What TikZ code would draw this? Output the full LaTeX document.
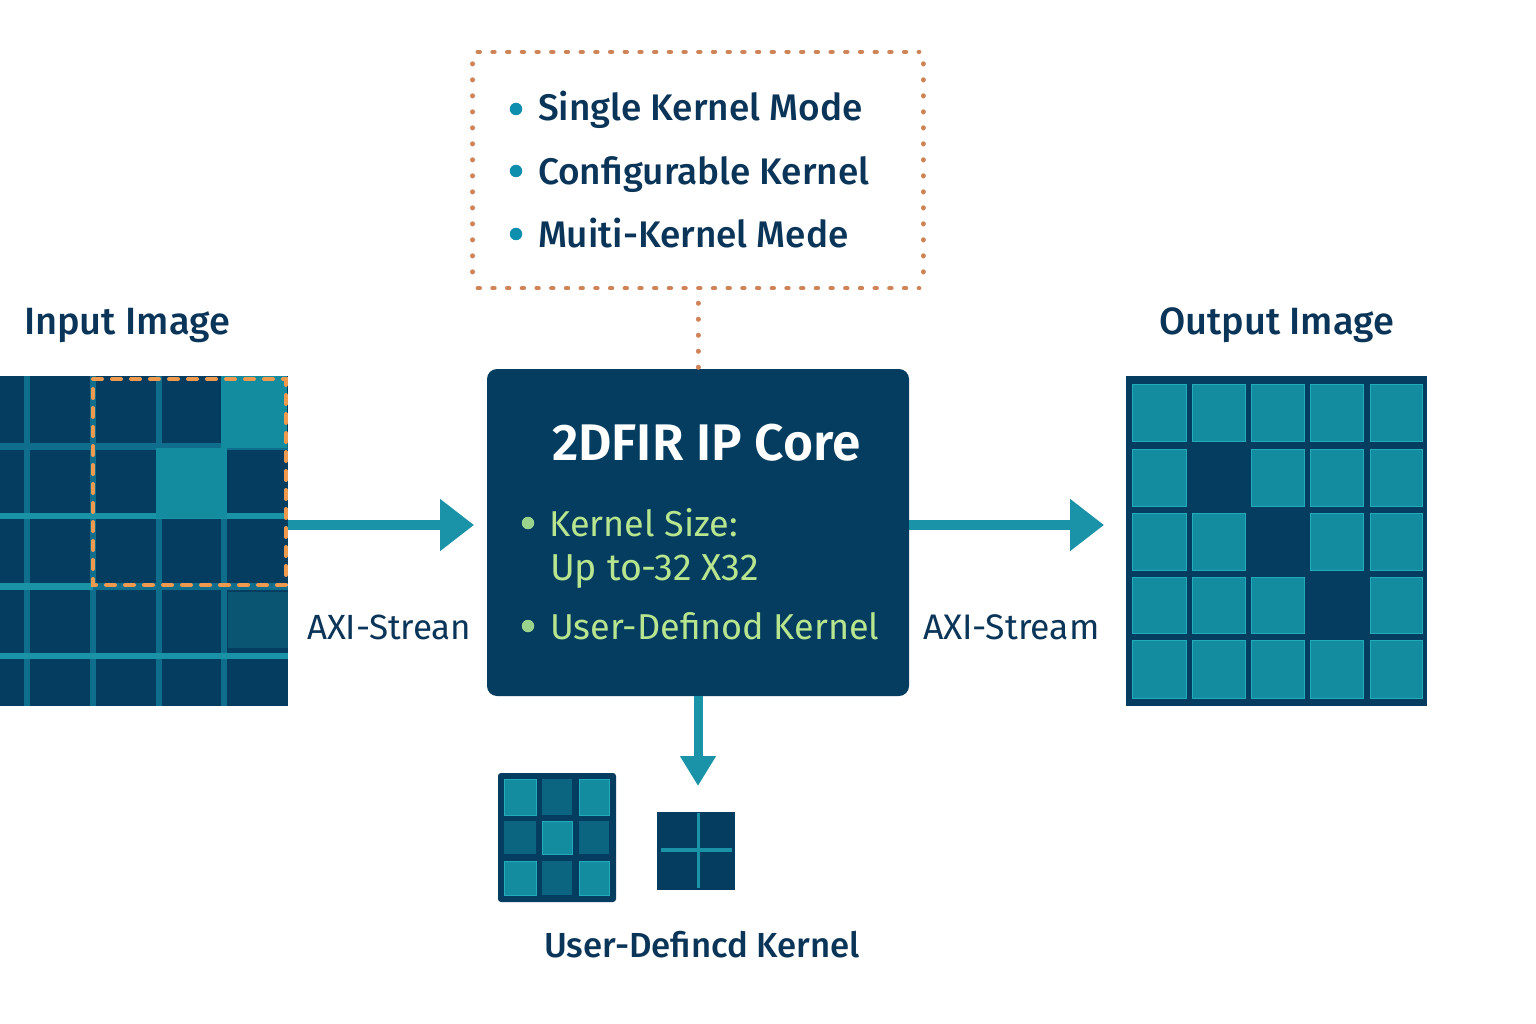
\documentclass[tikz,border=0pt]{standalone}
\usepackage{fontspec}
\usetikzlibrary{arrows.meta,calc}
\setmainfont{Liberation Sans}
\newfontfamily\medfont{Fira Sans Medium}
\newfontfamily\boldfont{Fira Sans SemiBold}
\newfontfamily\regfont{Fira Sans}
\definecolor{navy}{HTML}{043D60}
\definecolor{ink}{HTML}{0A3558}
\definecolor{teal}{HTML}{128C9E}
\definecolor{tealedge}{HTML}{22ABBB}
\definecolor{midteal}{HTML}{0B6480}
\definecolor{softcell}{HTML}{0A5672}
\definecolor{gridline}{HTML}{0F6E8C}
\definecolor{gridbright}{HTML}{1A93A6}
\definecolor{arrowteal}{HTML}{1A93A8}
\definecolor{orangedash}{HTML}{F09A50}
\definecolor{dotbrown}{HTML}{CF8458}
\definecolor{lime}{HTML}{B8E68F}
\definecolor{limedot}{HTML}{9AD48C}
\definecolor{bulletteal}{HTML}{0E8FAE}
\tikzset{
  panel/.style={fill=navy,draw=none,inner sep=0pt,outer sep=0pt},
  flow/.style={draw=arrowteal,line width=10pt,-{Triangle[length=34pt,width=50pt]}},
  flowdown/.style={draw=arrowteal,line width=9pt,-{Triangle[length=30pt,width=34pt]}},
  dotsh/.style={draw=dotbrown,line width=4.4pt,line cap=round,dash pattern=on 2pt off 12.7pt},
  dotsv/.style={draw=dotbrown,line width=5pt,line cap=round,dash pattern=on 0.1pt off 15.9pt},
  txt/.style={inner sep=0pt,outer sep=0pt,anchor=base west},
  heading/.style={txt,text=ink,font=\medfont\fontsize{38}{44}\selectfont},
  axis/.style={txt,text=ink,font=\regfont\fontsize{35}{40}\selectfont},
  listitem/.style={txt,text=ink,font=\medfont\fontsize{37}{44}\selectfont},
  coreitem/.style={txt,text=lime,font=\regfont\fontsize{36}{44}\selectfont},
  tile/.style={fill=teal,draw=tealedge,line width=1pt},
  dot/.style={circle,inner sep=0pt,minimum size=#1}
}
\begin{document}
\begin{tikzpicture}[x=1pt,y=-1pt]
\useasboundingbox[fill=white] (0,0) rectangle (1536,1024);

% ---------- input image
\node[panel,minimum width=288pt,minimum height=330pt] (input) at (144,541) {};
\foreach \x in {27,93,159,224}
  \fill[gridline] (\x-3.2,376) rectangle (\x+3.2,706);
\fill[gridline] (0,443) rectangle (288,449.5);
\fill[gridbright] (0,512.5) rectangle (288,519);
\fill[gridbright] (0,583) rectangle (93,589.5);
\fill[gridline] (93,583) rectangle (288,589.5);
\fill[gridbright] (0,653) rectangle (288,659);
\fill[teal] (221,376) rectangle (287,448);
\fill[teal] (156,448) rectangle (227,518);
\fill[navy] (228,450) rectangle (286,512);
\fill[softcell] (228,592) rectangle (288,648);
\draw[orangedash,line width=4pt,line cap=round,dash pattern=on 9pt off 10pt]
  (93,379) -- (286,379) -- (286,585) -- (93,585) -- cycle;

% ---------- output image
\node[panel,minimum width=301pt,minimum height=330pt] (output) at (1276.5,541) {};
\foreach \xa/\xb [count=\c] in {1132/1186,1192/1245,1251/1304,1310/1363,1370/1422} {
  \foreach \ya/\yb [count=\r] in {384/441,449/506,513/570,577/633,640/698} {
    \pgfmathtruncatemacro{\skipme}{(\c==\r && \c>1 && \c<5) ? 1 : 0}
    \ifnum\skipme=0
      \draw[tile] (\xa,\ya) rectangle (\xb,\yb);
    \fi
  }
}

% ---------- options box
\node[inner sep=0pt,minimum width=450pt,minimum height=236pt] (options) at (698,170) {};
\draw[dotsh,shorten <=5pt,shorten >=4pt] (options.north west) -- (options.north east);
\draw[dotsh,shorten <=5pt,shorten >=4pt] (options.south west) -- (options.south east);
\draw[dotsv,shorten <=12pt,shorten >=12pt] (options.north west) -- (options.south west);
\draw[dotsv,shorten <=12pt,shorten >=12pt] (options.north east) -- (options.south east);
\node[dot=12.5pt,fill=bulletteal] (b1) at (516,109) {};
\node[dot=12.5pt,fill=bulletteal] (b2) at (516,171) {};
\node[dot=12.5pt,fill=bulletteal] (b3) at (516,234) {};
\node[listitem] (o1) at (538,121) {Single Kernel Mode};
\node[listitem] (o2) at (538,185) {Configurable Kernel};
\node[listitem] (o3) at (538,248) {Muiti-Kernel Mede};

% ---------- core
\node[panel,rounded corners=10pt,minimum width=422pt,minimum height=327pt] (core) at (698,532.5) {};
\draw[dotsv,shorten <=15pt] (options.south) -- (core.north);
\node[txt,text=white,font=\boldfont\fontsize{51.5}{56}\selectfont] (title) at (552,460.5) {2DFIR IP Core};
\node[dot=12.5pt,fill=limedot] (c1) at (528,523) {};
\node[dot=12.5pt,fill=limedot] (c2) at (528,626) {};
\node[coreitem] (k1) at (549.5,536) {Kernel Size:};
\node[coreitem,font=\regfont\fontsize{37.5}{44}\selectfont] (k2) at (550,580) {Up to-32 X32};
\node[coreitem] (k3) at (550,639) {User-Definod Kernel};

% ---------- labels
\node[heading] (inlabel) at (24,334.5) {Input Image};
\node[heading] (outlabel) at (1159,334.5) {Output Image};
\node[axis] (axl) at (307,639) {AXI-Strean};
\node[axis,font=\regfont\fontsize{35.5}{40}\selectfont] (axr) at (923,639) {AXI-Stream};

% ---------- kernels
\node[panel,rounded corners=3pt,minimum width=118pt,minimum height=129pt] (kernel) at (557,837.5) {};
\foreach \xa/\xb [count=\c] in {504/536,542/572,579/609} {
  \foreach \ya/\yb [count=\r] in {779/815,821/854,861/895} {
    \pgfmathtruncatemacro{\oddcell}{mod(\c+\r,2)}
    \ifnum\oddcell=0
      \draw[tile] (\xa,\ya) rectangle (\xb,\yb);
    \else
      \fill[midteal] (\xa,\ya) rectangle (\xb,\yb);
    \fi
  }
}
\node[panel,minimum width=78pt,minimum height=78pt] (small) at (696,851) {};
\fill[gridbright] (696.5,813) rectangle (699.5,888);
\fill[gridbright] (661,848) rectangle (732,852);
\node[txt,text=ink,font=\medfont\fontsize{34.8}{40}\selectfont] (kerlabel) at (544,957.5) {User-Defincd Kernel};

% ---------- connectors
\coordinate (flowy) at (0,525);
\draw[flow,shorten >=13pt] (input.east |- flowy) -- (core.west |- flowy);
\draw[flow,shorten >=22pt] (core.east |- flowy) -- (output.west |- flowy);
\draw[flowdown,shorten >=26pt] (core.south) -- (core.south |- small.north);
\end{tikzpicture}
\end{document}
